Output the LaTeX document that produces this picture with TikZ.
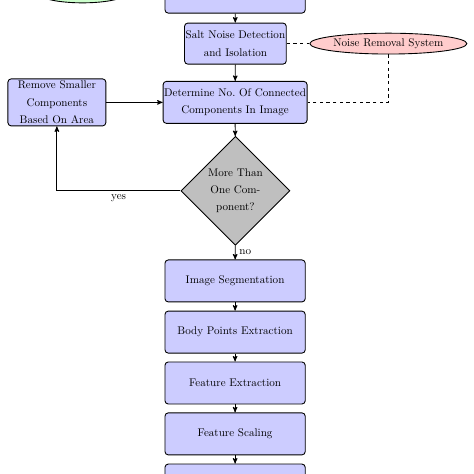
\documentclass[tikz,border=0pt]{standalone}
\usetikzlibrary{arrows,shapes.geometric}

\begin{document}
\begin{tikzpicture}[
    thick,
    >=stealth',
    block/.style = {
      draw,
      fill = blue!20,
      rectangle,
      rounded corners = 3pt,
      align = center,
      inner sep = 1pt,
      minimum width = 4.44cm,
      minimum height = 1.33cm,
      font = \linespread{1.3}\selectfont
    },
    decision/.style = {
      draw,
      fill = gray!50,
      diamond,
      aspect = 1,
      align = center,
      inner sep = 0pt,
      minimum size = 3.45cm,
      font = \linespread{1.3}\selectfont
    },
    oval/.style = {
      draw,
      ellipse,
      inner sep = 0pt,
      minimum height = 0.66cm
    }
  ]
  \clip (0,0) rectangle (15,-15);

  \node[oval, fill = green!20, minimum width = 2.88cm] (start) at (2.61,0.24) {};
  \node[block] (input) at (7.44,0.25) {};

  \node[block, minimum width = 3.13cm, minimum height = 1.3cm] (salt) at (7.45,-1.38)
    {Salt Noise Detection\\ and Isolation};
  \node[oval, fill = red!20, minimum width = 4.97cm] (noise) at (12.29,-1.38)
    {Noise Removal System};

  \node[block] (count) at (7.44,-3.24) {Determine No.\ Of Connected\\ Components In Image};
  \node[block, minimum width = 3.1cm, minimum height = 1.49cm] (remove) at (1.80,-3.24)
    {Remove Smaller\\ Components\\ Based On Area};

  \node[decision] (check) at (7.45,-6.04) {More Than\\ One Com-\\ ponent?};

  \node[block] (seg)     at (7.44,-8.89)  {Image Segmentation};
  \node[block] (body)    at (7.44,-10.51) {Body Points Extraction};
  \node[block] (feat)    at (7.44,-12.12) {Feature Extraction};
  \node[block] (scaling) at (7.44,-13.73) {Feature Scaling};
  \node[block] (next)    at (7.44,-15.35) {};

  \draw[->] (input) -- (salt);
  \draw[->] (salt) -- (count);
  \draw[->] (count) -- (check);
  \draw[->] (check) -- node[right] {no} (seg);
  \draw[->] (check) -| node[pos = 0.25, below] {yes} (remove);
  \draw[->] (remove) -- (count);

  \draw[->] (seg) -- (body);
  \draw[->] (body) -- (feat);
  \draw[->] (feat) -- (scaling);
  \draw[->] (scaling) -- (next);

  \draw[dashed] (salt) -- (noise);
  \draw[dashed] (noise) |- (count);
\end{tikzpicture}
\end{document}
